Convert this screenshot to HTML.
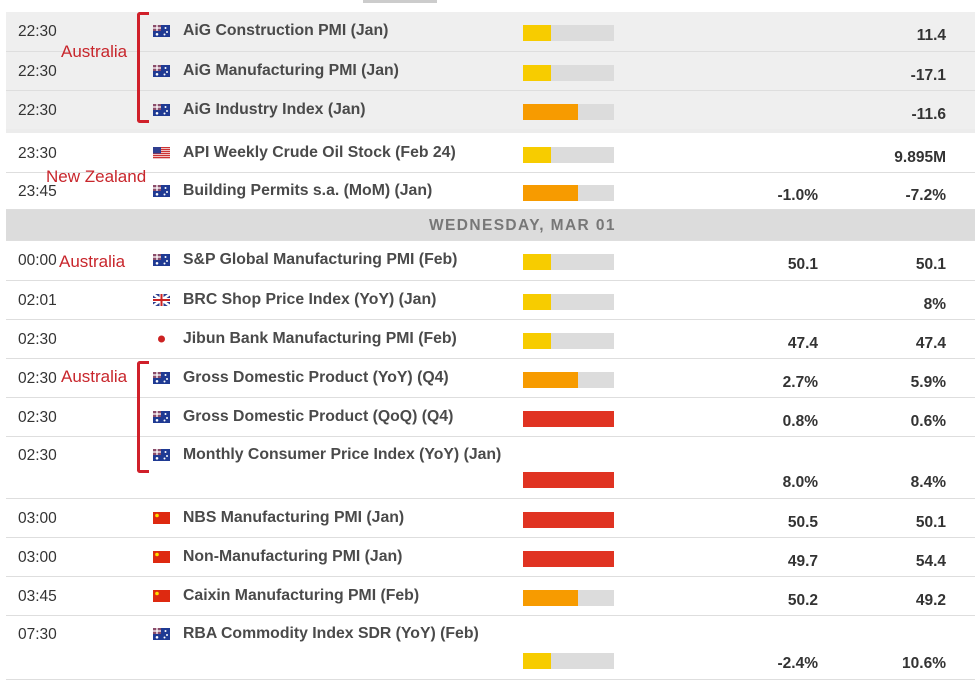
<!DOCTYPE html>
<html><head><meta charset="utf-8">
<style>
body{margin:0;width:975px;height:680px;background:#fff;position:relative;overflow:hidden;font-family:"Liberation Sans",Arial,sans-serif;}
.row{position:absolute;left:6px;right:0;border-bottom:1px solid #dedede;}
.t{position:absolute;left:12px;font-size:15.5px;color:#333;}
.n{position:absolute;left:177px;font-size:15.8px;font-weight:bold;color:#4a4a4a;white-space:nowrap;}
.flag{position:absolute;left:147px;width:17px;height:12px;}
.bar{position:absolute;left:517px;width:91px;height:16px;background:#dcdcdc;}
.bar div{height:100%;}
.v{position:absolute;font-size:15.5px;font-weight:bold;color:#333;text-align:right;width:80px;}
.ann{position:absolute;color:#c8262c;font-size:17px;}
.brk{position:absolute;border:3px solid #d0202a;border-right:none;border-radius:3px 0 0 3px;width:9px;}
</style></head><body>
<div style="position:absolute;left:363px;top:0;width:74px;height:3px;background:#ccc"></div>
<div id="tbl"></div>
<div class="ann" style="left:61px;top:42px">Australia</div>
<div class="brk" style="left:137px;top:12px;height:105px"></div>
<div class="ann" style="left:46px;top:167px">New Zealand</div>
<div class="ann" style="left:59px;top:252px">Australia</div>
<div class="ann" style="left:61px;top:367px">Australia</div>
<div class="brk" style="left:137px;top:361px;height:106px"></div>
<script>
const times=["22:30","22:30","22:30","23:30","23:45","","00:00","02:01","02:30","02:30","02:30","02:30","03:00","03:00","03:45","07:30"];
const names=["AiG Construction PMI (Jan)","AiG Manufacturing PMI (Jan)","AiG Industry Index (Jan)","API Weekly Crude Oil Stock (Feb 24)","Building Permits s.a. (MoM) (Jan)","WEDNESDAY, MAR 01","S&P Global Manufacturing PMI (Feb)","BRC Shop Price Index (YoY) (Jan)","Jibun Bank Manufacturing PMI (Feb)","Gross Domestic Product (YoY) (Q4)","Gross Domestic Product (QoQ) (Q4)","Monthly Consumer Price Index (YoY) (Jan)","NBS Manufacturing PMI (Jan)","Non-Manufacturing PMI (Jan)","Caixin Manufacturing PMI (Feb)","RBA Commodity Index SDR (YoY) (Feb)"];
const countries=["au","au","au","us","au","","au","gb","jp","au","au","au","cn","cn","cn","au"];
const impact=[1,1,2,1,2,0,1,1,1,2,3,3,3,3,2,1];
const forecast=["","","","","-1.0%","","50.1","","47.4","2.7%","0.8%","8.0%","50.5","49.7","50.2","-2.4%"];
const previous=["11.4","-17.1","-11.6","9.895M","-7.2%","","50.1","8%","47.4","5.9%","0.6%","8.4%","50.1","54.4","49.2","10.6%"];
const rowTops=[12,52,91,134,173,210,241,281,320,359,398,437,499,538,577,616];
const rowBottoms=[52,91,130,173,210,241,281,320,359,398,437,499,538,577,616,680];
const tbl=document.getElementById('tbl');
const colors={1:["#f7cc00",28],2:["#f79b00",55],3:["#e03322",91]};
function flag(c){
 if(c==="us")return '<svg width="17" height="12"><rect width="17" height="12" fill="#fff"/>'+[0,2,4,6,8,10].map(y=>`<rect y="${y}" width="17" height="1.3" fill="#c33"/>`).join('')+'<rect width="8" height="6.5" fill="#2f3e8f"/></svg>';
 if(c==="gb")return '<svg width="17" height="12"><rect width="17" height="12" fill="#2a3d8f"/><path d="M0 0L17 12M17 0L0 12" stroke="#fff" stroke-width="2.5"/><rect x="6.5" width="4" height="12" fill="#fff"/><rect y="4" width="17" height="4" fill="#fff"/><rect x="7.5" width="2" height="12" fill="#c22"/><rect y="5" width="17" height="2" fill="#c22"/></svg>';
 if(c==="jp")return '<svg width="17" height="12"><rect width="17" height="12" fill="#fff"/><circle cx="8.5" cy="6" r="3.5" fill="#c22"/></svg>';
 if(c==="cn")return '<svg width="17" height="12"><rect width="17" height="12" fill="#de2910"/><circle cx="4" cy="3.5" r="1.8" fill="#ffde00"/></svg>';
 return '<svg width="17" height="12"><rect width="17" height="12" fill="#1f3a93"/><rect width="8" height="6" fill="#8a4c6a"/><path d="M0 3H8M4 0V6" stroke="#fff" stroke-width="1.3"/><circle cx="4" cy="9.3" r="1.3" fill="#fff"/><circle cx="12.5" cy="3" r="1" fill="#fff"/><circle cx="14" cy="7" r="1" fill="#fff"/><circle cx="11.5" cy="9.5" r="1" fill="#fff"/></svg>';
}
for(let i=0;i<names.length;i++){
 const top=rowTops[i],h=rowBottoms[i]-top;
 const r=document.createElement('div');
 r.className='row';
 
 
 r.style.top=top+'px';r.style.height=(h-1)+'px';
 if(i<3)r.style.background='#efefef';
 if(i===2){r.style.borderBottom='4px solid #ececec';}
 if(i===5){
  r.style.background='#dcdcdc';
  r.innerHTML='<div style="position:absolute;left:423px;top:0;line-height:31px;font-size:15.5px;font-weight:bold;color:#777;letter-spacing:1.4px;white-space:nowrap">'+names[i]+'</div>';
  
  
  tbl.appendChild(r);continue;
 }
 const tall=h>50;
 const ty=tall?10:(h/2-9);
 const vy=tall?h-28:(h/2-8);
 r.innerHTML=`<div class="t" style="top:${ty}px">${times[i]}</div>`+
 `<div class="flag" style="top:${ty+1}px">${flag(countries[i])}</div>`+
 `<div class="n" style="top:${ty-1}px">${names[i].replace('&','&amp;')}</div>`+
 `<div class="bar" style="top:${vy+1}px"><div style="width:${colors[impact[i]][1]}px;background:${colors[impact[i]][0]}"></div></div>`+
 `<div class="v" style="left:732px;top:${vy+3}px">${forecast[i]}</div>`+
 `<div class="v" style="left:860px;top:${vy+3}px">${previous[i]}</div>`;
 tbl.appendChild(r);
}
</script>
</body></html>
